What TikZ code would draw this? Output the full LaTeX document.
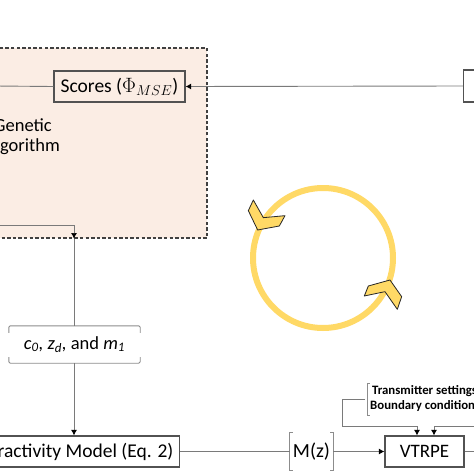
\documentclass[tikz,border=0pt]{standalone}
\usepackage{fontspec}
\setmainfont{Carlito}
\usetikzlibrary{arrows.meta,calc}
\tikzset{
  panel/.style={draw=black!75,fill=panelfill,line width=1.1pt,dash pattern=on 3.4pt off 2.2pt},
  solidbox/.style={draw=black!68,line width=1.2pt,fill=none,inner sep=0pt,minimum height=31pt,font=\fontsize{19.5}{22}\selectfont},
  plainlabel/.style={inner sep=0pt,font=\fontsize{18.5}{22}\selectfont},
  boldlabel/.style={inner sep=0pt,anchor=west,font=\fontsize{12.8}{15}\selectfont\bfseries},
  conn/.style={draw=black!52,line width=0.9pt},
  arr/.style={conn,-{Latex[length=5.5pt,width=6pt,black]}},
  bracketline/.style={draw=black!45,line width=0.9pt},
  ring/.style={draw=ringyellow,line width=6pt},
  chevron/.style={draw=black!85,fill=ringyellow,line width=0.8pt,line join=round}
}
\definecolor{panelfill}{HTML}{FBEDE4}
\definecolor{ringyellow}{HTML}{FFD966}
\begin{document}
\begin{tikzpicture}[x=1pt,y=-1pt]
\useasboundingbox (0,0) rectangle (474,474);
\clip (0,0) rectangle (474,474);
\fill[white] (0,0) rectangle (474,474);
% panel
\draw[panel] (-10,48) rectangle (207,238);
\node[solidbox,minimum width=131pt] (scores) at (119.5,86.5) {Scores ($\Phi_{MSE}$)};
\node[plainlabel,anchor=east] (gen) at (52,125) {Genetic};
\node[plainlabel,anchor=east] (alg) at (60,147) {Algorithm};
% right box at the edge
\node[solidbox,minimum width=40pt,minimum height=32pt,anchor=west] (outbox) at (463,86) {};
\coordinate (scoresleft) at (-5,86);
\draw[conn] (scores.west) -- (scoresleft);
\draw[arr] (outbox.west) -- (scores.east);
% feedback into panel bottom
\coordinate (fbstart) at (-5,225);
\coordinate (fbturn) at (74,225);
\coordinate (fbtip) at (74,238.5);
\draw[conn,line width=0.7pt] (fbstart) -- (fbturn);
\draw[arr,line width=0.7pt] (fbturn) -- (fbtip);
% parameters
\node[plainlabel,minimum width=131pt,minimum height=37pt] (params) at (74.5,344.5) {\textit{c\textsubscript{0}, z\textsubscript{d},} and \textit{m\textsubscript{1}}};
\draw[bracketline,rounded corners=1.5pt] ($(params.north west)+(0,7)$) -- (params.north west) -- (params.north east) -- ($(params.north east)+(0,7)$);
\draw[bracketline,rounded corners=1.5pt] ($(params.south west)+(0,-6)$) -- (params.south west) -- (params.south east) -- ($(params.south east)+(0,-6)$);
\draw[conn] (fbtip) -- (fbtip |- params.north);
% model
\node[solidbox,minimum width=200pt,anchor=east] (model) at (180,451.5) {\makebox[188pt][r]{Refractivity Model (Eq. 2)}};
\draw[arr] (fbtip |- params.south) -- (fbtip |- model.north);
% M(z)
\node[plainlabel,minimum width=43pt,minimum height=37pt,font=\fontsize{20}{24}\selectfont] (mz) at (311.5,451.5) {M(z)};
\draw[bracketline] ($(mz.north west)+(3,0)$) -- (mz.north west) -- (mz.south west) -- ($(mz.south west)+(3,0)$);
\draw[bracketline] ($(mz.north east)+(-3,0)$) -- (mz.north east) -- (mz.south east) -- ($(mz.south east)+(-3,0)$);
\draw[conn] (model.east) -- (mz.west);
% VTRPE
\node[solidbox,minimum width=79pt,font=\fontsize{19}{24}\selectfont] (vtrpe) at (424.5,451.5) {VTRPE};
\draw[arr] (mz.east) -- (vtrpe.west);
\coordinate (vtrpeout) at (480,451.5);
\draw[conn] (vtrpe.east) -- (vtrpeout);
% settings
\node[boldlabel] (tx) at (372,391) {Transmitter settings};
\node[boldlabel] (bc) at (370,406) {Boundary conditions};
\coordinate (brtop) at (367,383);
\coordinate (brbot) at (367,415);
\coordinate (brmid) at (365,399);
\coordinate (corner) at (342,399);
\coordinate (corner2) at (342,426);
\coordinate (tipa) at (417,426);
\coordinate (tipb) at (434,426);
\coordinate (rightend) at (480,426);
\draw[bracketline] ($(brtop)+(3,0)$) -- (brtop) -- (brbot) -- ($(brbot)+(3,0)$);
\draw[conn] (brmid) -- (corner) -- (corner2) -- (tipa);
\draw[arr] (tipa) -- (tipa |- vtrpe.north);
\draw[conn] (rightend) -- (tipb);
\draw[arr] (tipb) -- (tipb |- vtrpe.north);
% cycle
\coordinate (cyc) at (323,258);
\draw[ring] (cyc) circle[radius=70];
\begin{scope}[shift={(230,180)},x=0.3333pt,y=-0.3333pt]
\draw[chevron] (70,60) -- (100,113) -- (165,107) -- (148,138) -- (83,150) -- (55,92) -- cycle;
\draw[chevron] (403,348) -- (415,318) -- (480,300) -- (515,350) -- (502,388) -- (465,335) -- cycle;
\end{scope}
\end{tikzpicture}
\end{document}
